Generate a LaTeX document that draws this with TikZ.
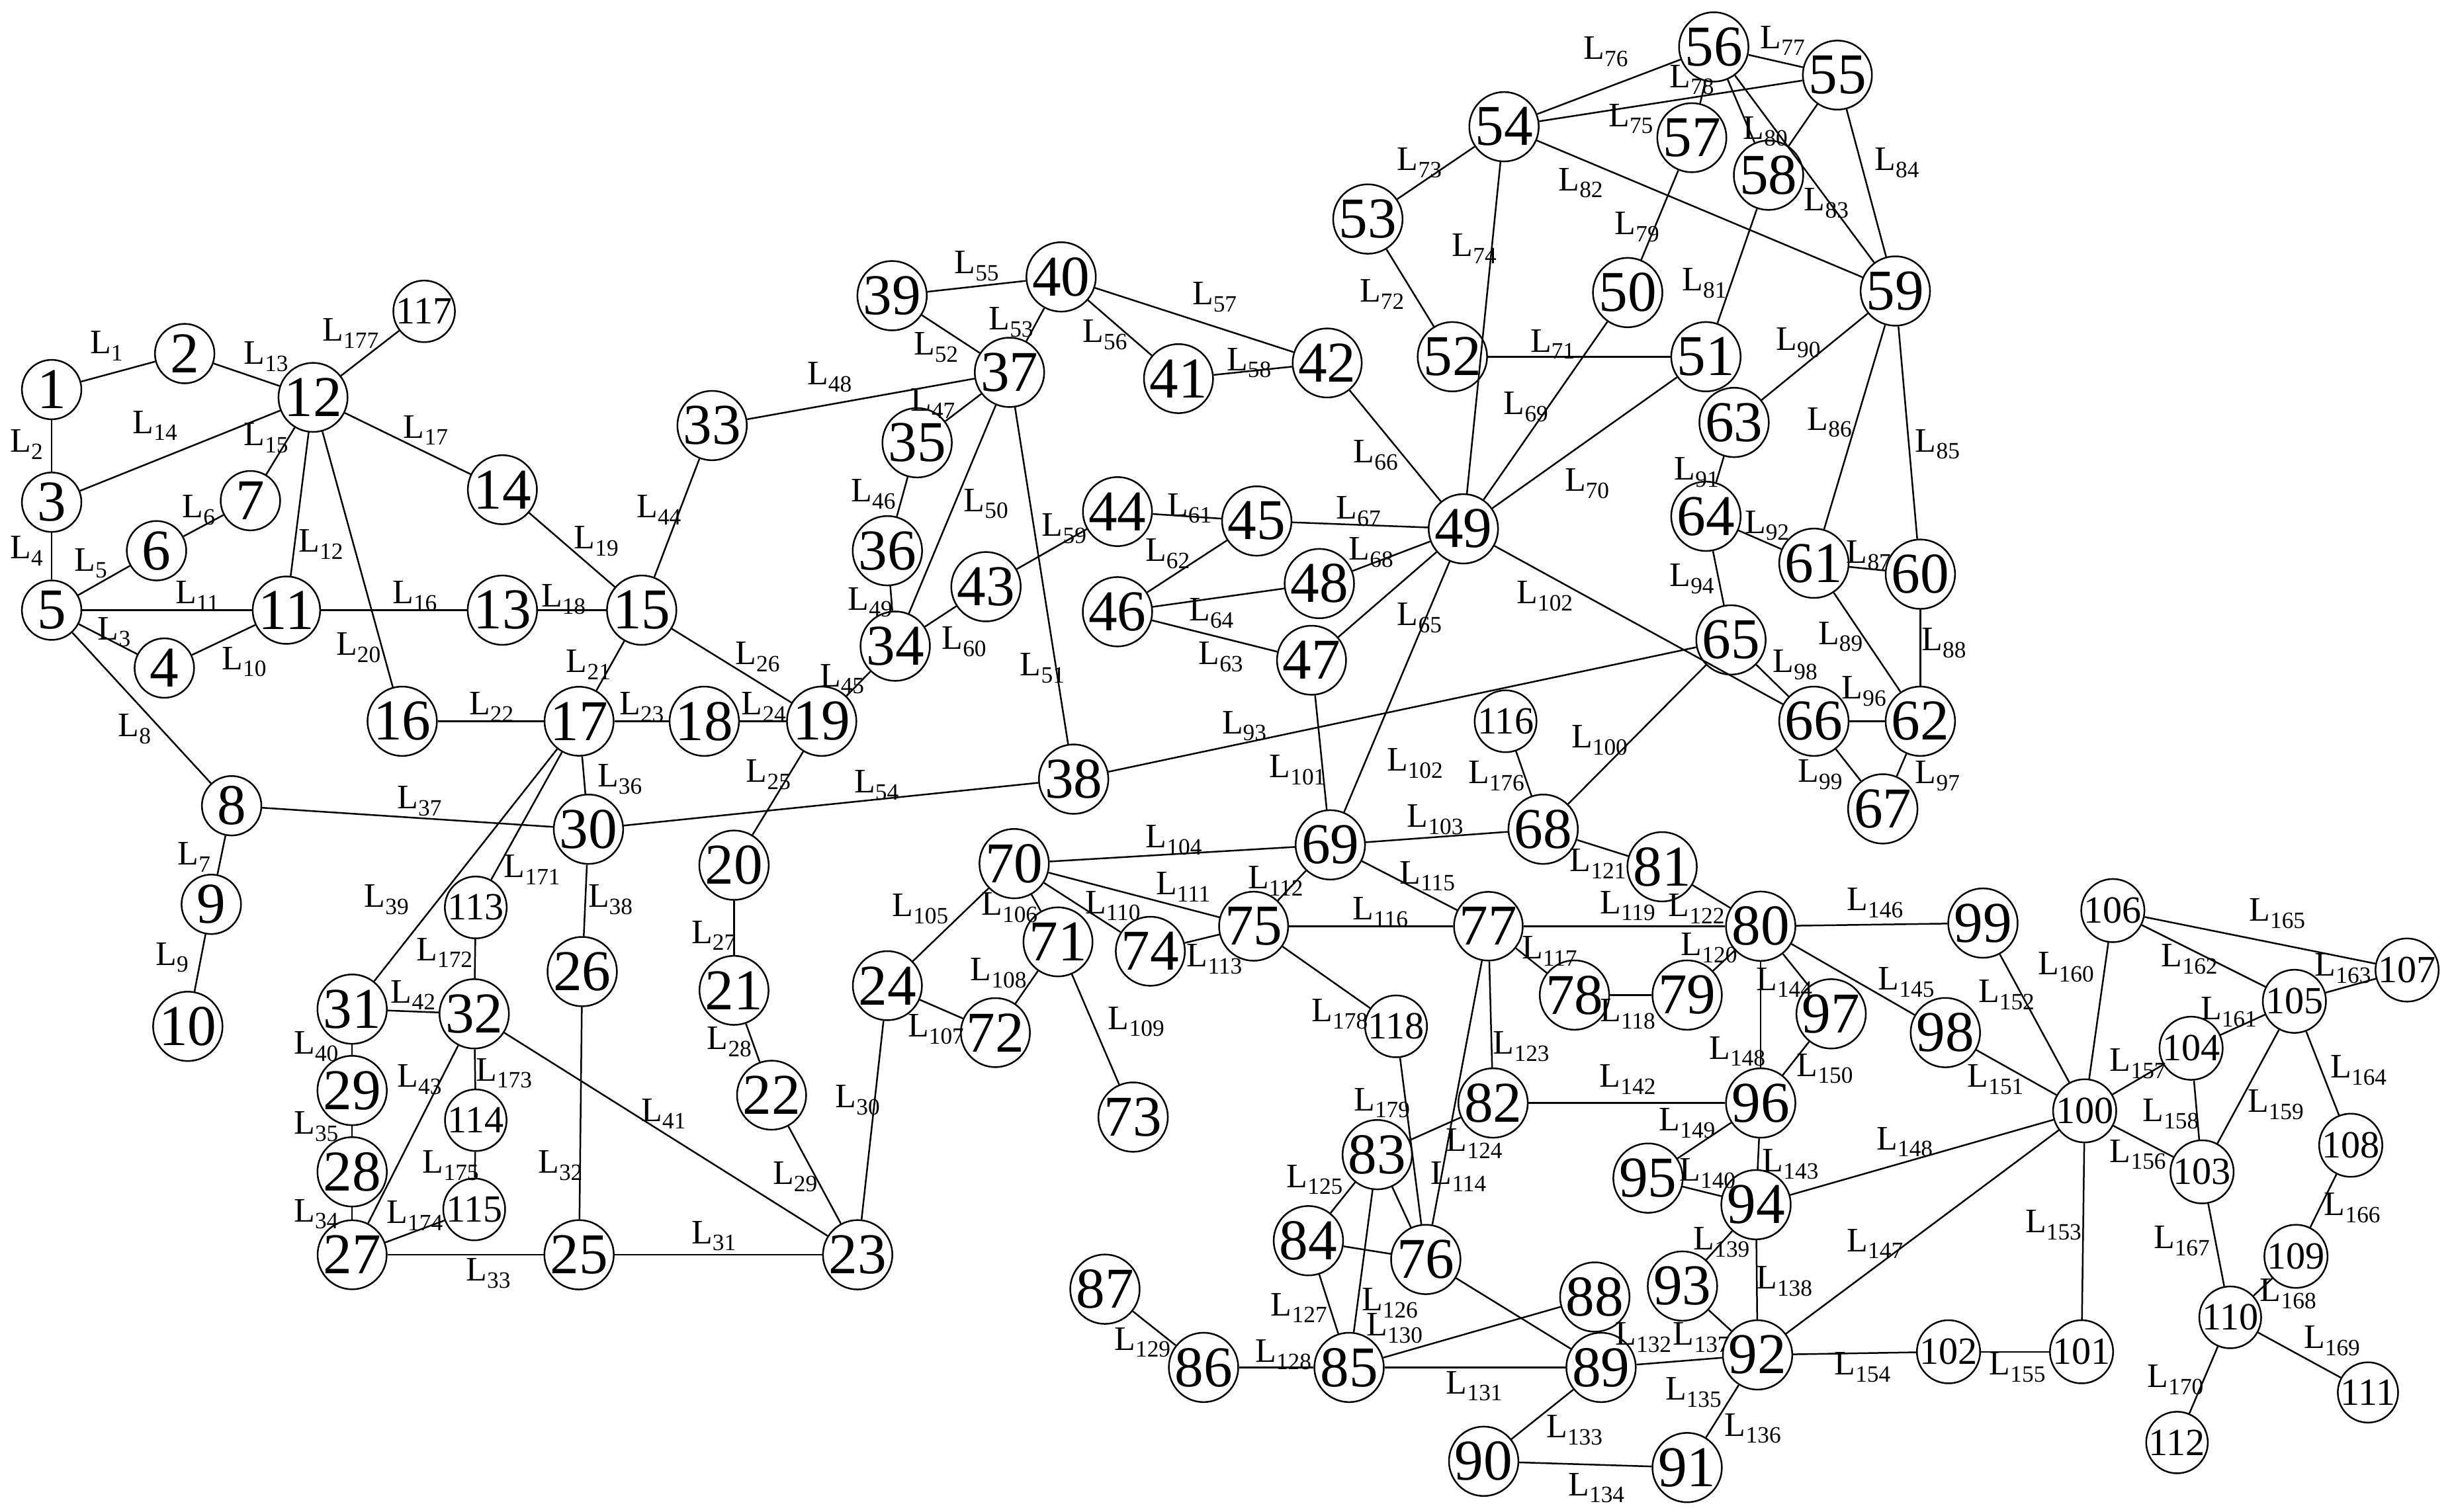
\documentclass[tikz,border=0pt]{standalone}
\usepackage{fontspec}
\setmainfont{Liberation Serif}
\newcommand\Lab[1]{L\raisebox{-0.45ex}{\fontsize{8.5}{8.5}\selectfont #1}}
\begin{document}
\begin{tikzpicture}[x=0.02cm,y=-0.02cm,
  bus/.style={circle,draw,line width=0.6pt,fill=white,minimum size=0.76cm,inner sep=0pt},
  lab/.style={inner sep=0pt,font=\fontsize{12.5}{12.5}\selectfont},
  edge/.style={line width=0.6pt}]
\useasboundingbox (0,0) rectangle (1568,966);
\foreach \n/\x/\y in {1/33/249,2/118/226,3/33/321,4/105/427,5/33/390,6/100/352,7/160/320,8/148/515,9/135/578,10/120/656,
11/183/390,12/200/254,13/321/390,14/321/313,15/410/390,16/257/461,17/370/461,18/450/461,19/525/461,20/469/553,
21/469/633,22/493/700,23/548/802,24/567/630,25/370/802,26/372/621,27/225/802,28/225/749,29/225/697,30/376/530,
31/225/645,32/303/648,33/455/272,34/572/413,35/586/283,36/567/352,37/645/238,38/686/498,39/570/189,40/678/177,
41/753/242,42/848/232,43/630/375,44/714/327,45/803/333,46/714/391,47/838/422,48/843/373,49/935/338,50/1040/187,
51/1090/228,52/928/228,53/874/140,54/961/81,55/1174/48,56/1095/30,57/1081/88,58/1130/112,59/1211/186,60/1227/367,
61/1159/360,62/1227/461,63/1108/270,64/1090/330,65/1106/409,66/1159/461,67/1203/517,68/986/530,69/850/540,70/648/552,
71/676/602,72/636/660,73/724/714,74/735/608,75/801/592,76/911/805,77/951/592,78/1006/636,79/1078/636,80/1125/592,
81/1062/554,82/954/705,83/880/738,84/836/793,85/862/874,86/769/874,87/706/824,88/1019/829,89/1023/874,90/948/934,
91/1078/938,92/1123/866,93/1075/822,94/1122/770,95/1053/753,96/1125/705,97/1170/648,98/1243/660,99/1267/590,100/1332/710,
101/1330/864,102/1245/864,103/1407/749,104/1400/670,105/1466/640,106/1350/582,107/1538/620,108/1502/732,109/1467/803,110/1425/842,
111/1513/890,112/1391/922,113/304/580,114/304/716,115/303/773,116/962/461,117/271/199,118/892/656}
{\node[bus] (\n) at (\x,\y) {\ifnum\n>99 \fontsize{14}{14}\selectfont\else\fontsize{21}{21}\selectfont\fi\n};}
\foreach \a/\b in {1/2,1/3,5/4,3/5,5/6,6/7,8/9,5/8,9/10,4/11,5/11,11/12,2/12,3/12,7/12,11/13,12/14,13/15,14/15,12/16,15/17,16/17,17/18,18/19,19/20,15/19,20/21,21/22,22/23,23/24,23/25,25/26,25/27,27/28,28/29,17/30,8/30,26/30,17/31,29/31,23/32,31/32,27/32,15/33,19/34,35/36,35/37,33/37,34/36,34/37,37/38,37/39,37/40,30/38,39/40,40/41,40/42,41/42,43/44,34/43,44/45,45/46,46/47,46/48,47/49,42/49,45/49,48/49,49/50,49/51,51/52,52/53,53/54,49/54,54/55,54/56,55/56,56/57,50/57,56/58,51/58,54/59,56/59,55/59,55/58,59/60,59/61,60/61,60/62,61/62,59/63,63/64,61/64,38/65,64/65,49/66,62/66,62/67,65/66,66/67,65/68,47/69,49/69,68/69,69/70,24/70,70/71,24/72,71/72,71/73,70/74,70/75,69/75,74/75,76/77,69/77,75/77,77/78,78/79,77/80,79/80,68/81,80/81,77/82,82/83,83/84,83/85,84/85,83/76,84/76,76/89,85/86,86/87,85/88,85/89,88/89,89/90,90/91,89/92,91/92,92/93,92/94,93/94,94/95,80/96,82/96,94/96,80/97,80/98,80/99,92/100,94/100,95/96,96/97,98/100,99/100,100/101,92/102,101/102,100/103,100/104,103/104,103/105,100/106,104/105,105/106,105/107,105/108,106/107,108/109,103/110,109/110,110/111,110/112,17/113,32/113,32/114,27/115,114/115,68/116,12/117,75/118,76/118}
{\draw[edge] (\a) -- (\b);}
\foreach \t/\x/\y in {1/68/221,2/17/284,3/73/404,4/17/352,5/58/360,6/127/326,7/124/548,8/86/466,9/110/612,10/156/423,
11/126/381,12/205/348,13/170/228,14/99/272,15/170/280,16/265/381,17/272/275,18/360/383,19/381/346,20/229/414,
21/376/425,22/314/452,23/410/452,24/488/452,25/491/495,26/484/420,27/456/598,28/466/666,29/508/752,30/548/703,
31/456/790,32/358/745,33/312/814,34/202/776,35/202/720,36/396/498,37/268/512,38/390/575,39/247/575,40/202/669,
41/424/712,42/264/636,43/268/690,44/421/326,45/538/434,46/558/316,47/596/258,48/530/241,49/556/385,50/630/322,
51/666/427,52/598/222,53/646/206,54/560/502,55/624/170,56/706/214,57/776/190,58/798/232,59/680/338,60/616/410,
61/760/325,62/746/354,63/780/420,64/774/392,65/907/395,66/879/291,67/868/327,68/876/353,69/975/260,70/1014/309,
71/992/220,72/883/188,73/907/104,74/942/159,75/1042/76,76/1026/33,77/1139/26,78/1081/51,79/1046/145,80/1128/84,
81/1089/181,82/1010/117,83/1167/130,84/1212/104,85/1238/284,86/1169/270,87/1194/355,88/1242/411,89/1176/407,90/1149/219,
91/1084/302,92/1129/336,93/795/464,94/1081/370,102/987/381,96/1191/442,97/1238/496,98/1147/425,99/1163/495,100/1022/473,
101/829/492,102/904/488,103/917/524,104/750/537,105/588/581,106/645/580,107/598/658,108/638/622,109/726/653,110/711/579,
111/756/567,112/815/563,113/776/613,114/932/752,115/912/560,116/882/583,117/990/608,118/1040/648,119/1040/579,120/1092/606,
121/1021/552,122/1084/581,123/972/669,124/942/731,125/840/754,126/888/833,127/830/836,128/820/866,129/730/858,130/891/849,
131/942/886,132/1050/855,133/1006/914,134/1020/951,135/1082/890,136/1120/913,137/1087/855,138/1140/819,139/1100/794,140/1091/750,
142/1040/690,143/1144/744,144/1140/628,148/1110/672,149/1078/718,150/1166/683,145/1218/628,146/1198/577,147/1198/795,148/1217/730,
151/1275/690,152/1282/636,153/1312/783,154/1190/874,155/1289/874,156/1366/738,157/1366/680,158/1387/712,159/1454/706,160/1320/618,
161/1424/647,162/1399/613,163/1497/619,164/1507/684,165/1455/584,166/1503/772,167/1394/793,168/1462/827,169/1490/857,170/1390/882,
171/340/556,172/284/609,173/322/686,174/265/777,175/288/745,176/956/496,177/224/213,178/856/648,179/883/705}
{\node[lab] at (\x,\y) {\Lab{\t}};}
\end{tikzpicture}
\end{document}
